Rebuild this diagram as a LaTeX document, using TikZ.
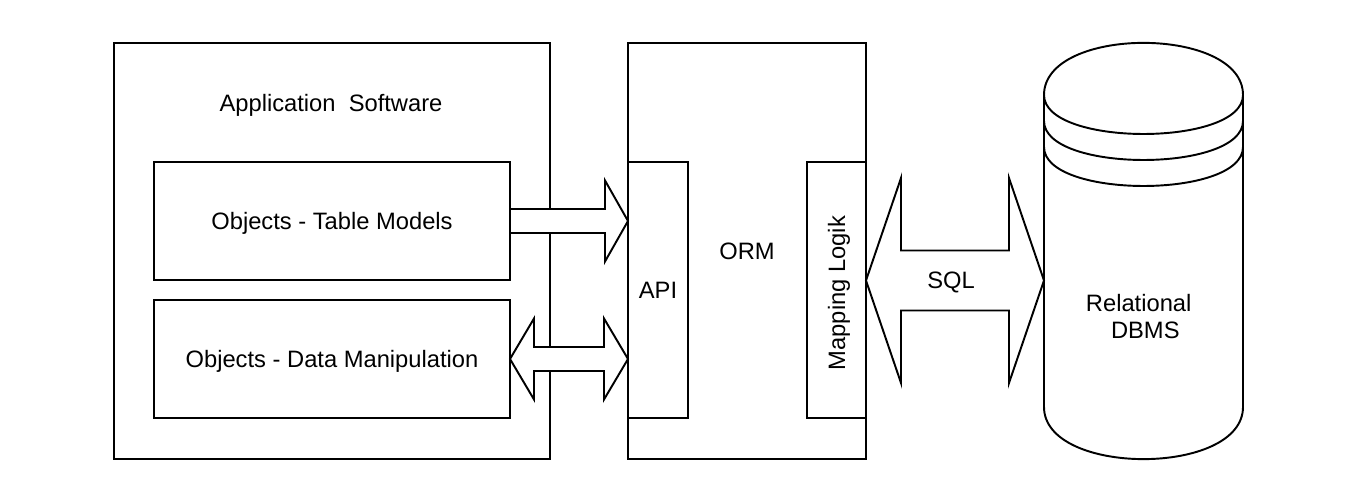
\documentclass[tikz,border=0pt]{standalone}
\usepackage{fontspec}
\setmainfont{Liberation Sans}
\usepackage{tikz}
\usetikzlibrary{positioning}
\usetikzlibrary{calc}
\tikzset{
    orm diagram/.style={
            line width=1.1pt,
            font=\fontsize{13.5}{14.9}\selectfont,
            box/.style={draw, outer sep=0pt, inner sep=0pt, text depth=0pt},
            txt/.style={inner sep=0pt, text depth=0pt},
            blockarrow/.style={draw, fill=white, line join=miter}
        }
    }

\begin{document}
\begin{tikzpicture}[orm diagram]
    \useasboundingbox (0,0) rectangle (27.16,10.08);
    \node [box, minimum width=8.72cm, minimum height=8.32cm] (app) at (6.64,5.06) {};
    \node [txt] (apptitle) at ($(app.north)+(-0.02,-1.2)$) {Application~~Software};
    \node [box, minimum width=7.12cm, minimum height=2.36cm, below=2.38cm of app.north] (tables) {Objects - Table Models};
    \node [box, minimum width=7.12cm, minimum height=2.36cm, below=0.4cm of tables] (manip) {Objects - Data Manipulation};
    \node [box, minimum width=4.76cm, minimum height=8.32cm, right=1.56cm of app] (orm) {ORM};
    \node [box, minimum width=1.2cm, minimum height=5.12cm, anchor=north west] (api) at (orm.west |- tables.north) {API};
    \node [box, minimum width=1.18cm, minimum height=5.12cm, anchor=north east] (mapping) at (orm.east |- tables.north) {};
    \node [txt, rotate=90, xshift=-0.06cm] (maplabel) at (mapping) {Mapping Logik};
    \node [minimum width=3.98cm, minimum height=8.32cm, outer sep=0pt, right=3.56cm of orm] (db) {};
    % database cylinder
    \draw ($(db.north west)+(0,-1.04)$) .. controls ($(db.north west)+(0,0.35)$) and ($(db.north east)+(0,0.35)$) .. ($(db.north east)+(0,-1.04)$)
        -- ($(db.south east)+(0,1.04)$) .. controls ($(db.south east)+(0,-0.35)$) and ($(db.south west)+(0,-0.35)$) .. ($(db.south west)+(0,1.04)$) -- cycle;
    \draw ($(db.north west)+(0,-1.04)$) .. controls ($(db.north west)+(0,-2.08)$) and ($(db.north east)+(0,-2.08)$) .. ($(db.north east)+(0,-1.04)$);
    \draw ($(db.north west)+(0,-1.56)$) .. controls ($(db.north west)+(0,-2.6)$) and ($(db.north east)+(0,-2.6)$) .. ($(db.north east)+(0,-1.56)$);
    \draw ($(db.north west)+(0,-2.08)$) .. controls ($(db.north west)+(0,-3.12)$) and ($(db.north east)+(0,-3.12)$) .. ($(db.north east)+(0,-2.08)$);
    \node [txt, align=center] (dblabel) at ($(db.center)+(-0.03,-1.31)$) {Relational\hphantom{\ }\\\hphantom{\ }DBMS};
    % block arrows
    \draw [blockarrow] ($(tables.east)+(0,0.24)$) -- ($(api.west |- tables.east)+(-0.46,0.24)$) -- ++(0,0.57) -- (api.west |- tables.east)
        -- ++(-0.46,-0.81) -- ++(0,0.57) -- ($(tables.east)+(0,-0.24)$) -- cycle;
    \draw [blockarrow] (manip.east) -- ++(0.48,0.81) -- ++(0,-0.57) -- ($(api.west |- manip.east)+(-0.48,0.24)$) -- ++(0,0.57) -- (api.west |- manip.east)
        -- ++(-0.48,-0.81) -- ++(0,0.57) -- ($(manip.east)+(0.48,-0.24)$) -- ++(0,-0.57) -- cycle;
    \coordinate (sqlL) at ($(mapping.east)+(0,0.19)$);
    \coordinate (sqlR) at (sqlL -| db.west);
    \draw [blockarrow] (sqlL) -- ++(0.7,2.05) -- ++(0,-1.45) -- ($(sqlR)+(-0.7,0.6)$) -- ++(0,1.45) -- (sqlR)
        -- ++(-0.7,-2.05) -- ++(0,1.45) -- ($(sqlL)+(0.7,-0.6)$) -- ++(0,-1.45) -- cycle;
    \node [txt, xshift=-0.08cm] (sql) at ($(sqlL)!0.5!(sqlR)$) {SQL};
\end{tikzpicture}
\end{document}
